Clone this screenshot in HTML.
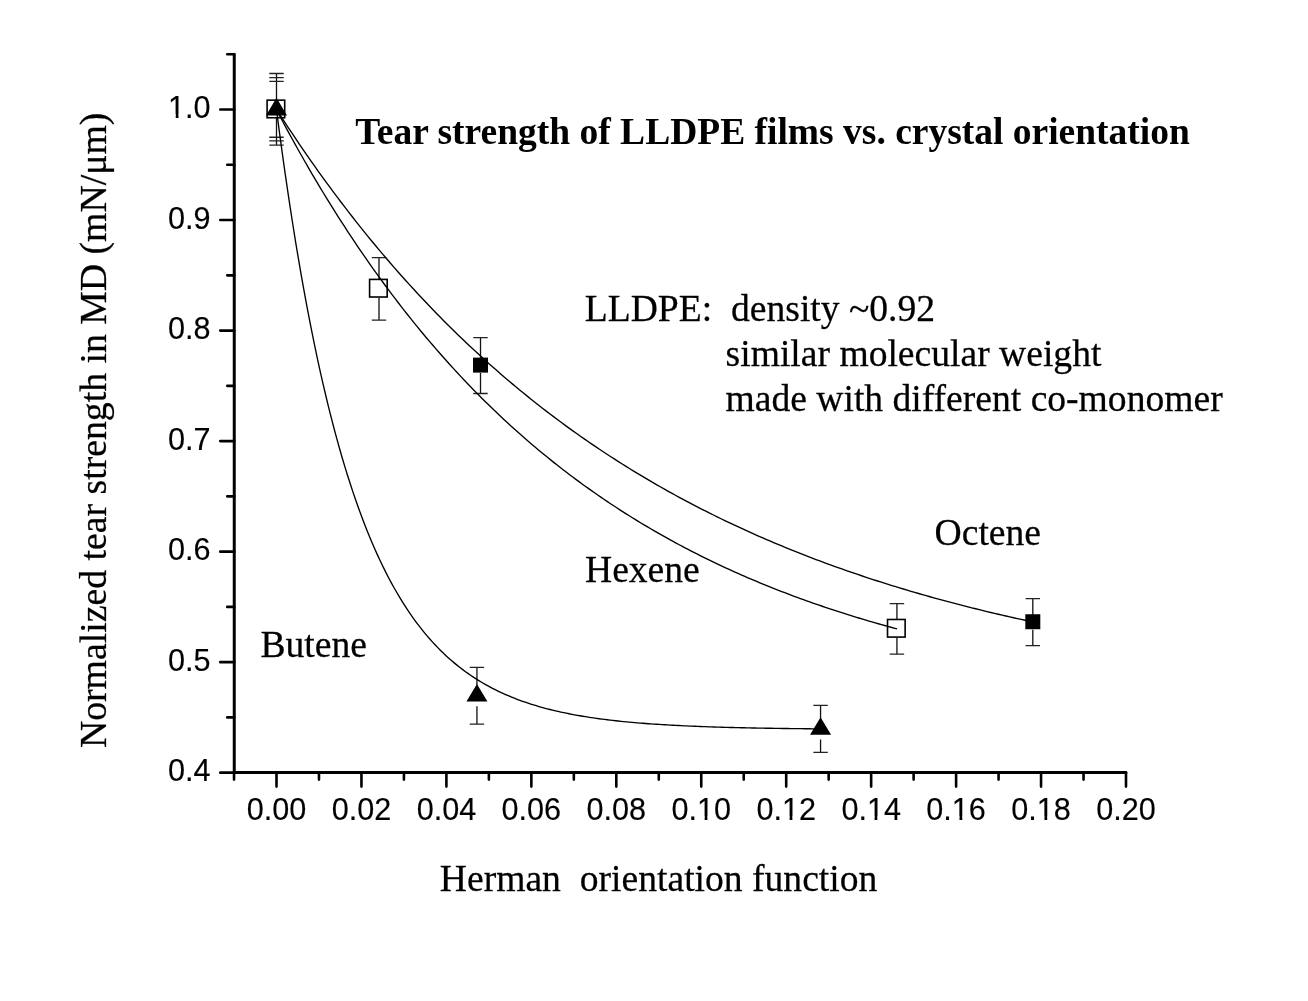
<!DOCTYPE html>
<html><head><meta charset="utf-8"><title>Tear strength of LLDPE films vs. crystal orientation</title><style>html,body{margin:0;padding:0;background:#fff;}svg{display:block;}</style></head><body>
<svg width="1308" height="1001" viewBox="0 0 1308 1001">
<rect width="1308" height="1001" fill="#fff"/>
<g stroke="#000" fill="none">
<path d="M234.25 54.29V772.6H1126.00" stroke-width="3" stroke-linejoin="miter" stroke-linecap="round"/>
<path d="M234.25 772.67H220.25M234.25 662.15H220.25M234.25 551.63H220.25M234.25 441.11H220.25M234.25 330.59H220.25M234.25 220.07H220.25M234.25 109.55H220.25M234.25 717.41H227.25M234.25 606.89H227.25M234.25 496.37H227.25M234.25 385.85H227.25M234.25 275.33H227.25M234.25 164.81H227.25M234.25 54.29H227.25M276.50 772.6V786.6M361.45 772.6V786.6M446.40 772.6V786.6M531.35 772.6V786.6M616.30 772.6V786.6M701.25 772.6V786.6M786.20 772.6V786.6M871.15 772.6V786.6M956.10 772.6V786.6M1041.05 772.6V786.6M1126.00 772.6V786.6M234.03 772.6V779.6M318.98 772.6V779.6M403.93 772.6V779.6M488.88 772.6V779.6M573.83 772.6V779.6M658.78 772.6V779.6M743.73 772.6V779.6M828.68 772.6V779.6M913.62 772.6V779.6M998.57 772.6V779.6M1083.53 772.6V779.6" stroke-width="2.6" stroke-linecap="round"/>
</g>
<g font-family="'Liberation Sans',Arial,sans-serif" font-size="30.6" fill="#000" stroke="#000" stroke-width="0.15">
<text transform="translate(210.60 781.27) scale(1.0 1.04)" text-anchor="end">0.4</text>
<text transform="translate(210.60 670.75) scale(1.0 1.04)" text-anchor="end">0.5</text>
<text transform="translate(210.60 560.23) scale(1.0 1.04)" text-anchor="end">0.6</text>
<text transform="translate(210.60 449.71) scale(1.0 1.04)" text-anchor="end">0.7</text>
<text transform="translate(210.60 339.19) scale(1.0 1.04)" text-anchor="end">0.8</text>
<text transform="translate(210.60 228.67) scale(1.0 1.04)" text-anchor="end">0.9</text>
<text transform="translate(210.60 118.15) scale(1.0 1.04)" text-anchor="end">1.0</text>
<text transform="translate(276.50 820.20) scale(1.0 1.04)" text-anchor="middle">0.00</text>
<text transform="translate(361.45 820.20) scale(1.0 1.04)" text-anchor="middle">0.02</text>
<text transform="translate(446.40 820.20) scale(1.0 1.04)" text-anchor="middle">0.04</text>
<text transform="translate(531.35 820.20) scale(1.0 1.04)" text-anchor="middle">0.06</text>
<text transform="translate(616.30 820.20) scale(1.0 1.04)" text-anchor="middle">0.08</text>
<text transform="translate(701.25 820.20) scale(1.0 1.04)" text-anchor="middle">0.10</text>
<text transform="translate(786.20 820.20) scale(1.0 1.04)" text-anchor="middle">0.12</text>
<text transform="translate(871.15 820.20) scale(1.0 1.04)" text-anchor="middle">0.14</text>
<text transform="translate(956.10 820.20) scale(1.0 1.04)" text-anchor="middle">0.16</text>
<text transform="translate(1041.05 820.20) scale(1.0 1.04)" text-anchor="middle">0.18</text>
<text transform="translate(1126.00 820.20) scale(1.0 1.04)" text-anchor="middle">0.20</text>
</g>
<g fill="#fff"><rect x="169.41" y="114.42" width="6.31" height="4.53"/><rect x="178.51" y="114.42" width="6.14" height="4.53"/><rect x="698.34" y="816.47" width="6.31" height="4.53"/><rect x="707.44" y="816.47" width="6.14" height="4.53"/><rect x="783.29" y="816.47" width="6.31" height="4.53"/><rect x="792.39" y="816.47" width="6.14" height="4.53"/><rect x="868.24" y="816.47" width="6.31" height="4.53"/><rect x="877.34" y="816.47" width="6.14" height="4.53"/><rect x="953.19" y="816.47" width="6.31" height="4.53"/><rect x="962.29" y="816.47" width="6.14" height="4.53"/><rect x="1038.14" y="816.47" width="6.31" height="4.53"/><rect x="1047.24" y="816.47" width="6.14" height="4.53"/></g>
<path d="M276.50 73.52V102.05M276.50 117.05V145.08M276.50 77.72V102.05M276.50 117.05V140.88M276.50 81.37V102.05M276.50 117.05V137.23M480.51 337.55V358.01M480.51 373.01V393.48M1032.81 598.71V614.64M1032.81 629.64V645.57M378.99 257.54V279.61M378.99 298.01V320.09M896.93 603.57V619.68M896.93 638.08V654.19M476.94 667.34V685.25M476.94 706.25V724.15M820.56 705.36V718.40M820.56 739.40V752.44" stroke="#111" stroke-width="1.3" fill="none"/>
<path d="M269.30 73.52H283.70M269.30 145.08H283.70M269.30 77.72H283.70M269.30 140.88H283.70M269.30 81.37H283.70M269.30 137.23H283.70M473.31 337.55H487.71M473.31 393.48H487.71M1025.61 598.71H1040.01M1025.61 645.57H1040.01M371.79 257.54H386.19M371.79 320.09H386.19M889.73 603.57H904.13M889.73 654.19H904.13M469.74 667.34H484.14M469.74 724.15H484.14M813.36 705.36H827.76M813.36 752.44H827.76" stroke="#222" stroke-width="1.3" fill="none"/>
<rect x="269.00" y="101.65" width="15" height="15" fill="#000"/>
<rect x="473.01" y="357.61" width="15" height="15" fill="#000"/>
<rect x="1025.31" y="614.24" width="15" height="15" fill="#000"/>
<rect x="267.10" y="100.15" width="17.6" height="17.6" fill="#fff" stroke="#000" stroke-width="1.6"/>
<rect x="369.59" y="279.41" width="17.6" height="17.6" fill="#fff" stroke="#000" stroke-width="1.6"/>
<rect x="887.53" y="619.48" width="17.6" height="17.6" fill="#fff" stroke="#000" stroke-width="1.6"/>
<path d="M276.50 109.69 L279.23 130.60 L281.97 150.79 L284.70 170.31 L287.44 189.17 L290.17 207.40 L292.91 225.01 L295.64 242.02 L298.37 258.46 L301.11 274.35 L303.84 289.70 L306.58 304.53 L309.31 318.87 L312.04 332.72 L314.78 346.10 L317.51 359.03 L320.25 371.53 L322.98 383.60 L325.72 395.27 L328.45 406.54 L331.18 417.43 L333.92 427.96 L336.65 438.13 L339.39 447.96 L342.12 457.45 L344.85 466.63 L347.59 475.50 L350.32 484.06 L353.06 492.34 L355.79 500.34 L358.53 508.07 L361.26 515.54 L363.99 522.76 L366.73 529.73 L369.46 536.47 L372.20 542.98 L374.93 549.27 L377.67 555.35 L380.40 561.23 L383.13 566.90 L385.87 572.39 L388.60 577.69 L391.34 582.81 L394.07 587.76 L396.80 592.54 L399.54 597.16 L402.27 601.62 L405.01 605.94 L407.74 610.11 L410.48 614.13 L413.21 618.03 L415.94 621.79 L418.68 625.42 L421.41 628.93 L424.15 632.33 L426.88 635.60 L429.61 638.77 L432.35 641.83 L435.08 644.79 L437.82 647.65 L440.55 650.41 L443.29 653.08 L446.02 655.66 L448.75 658.15 L451.49 660.56 L454.22 662.88 L456.96 665.13 L459.69 667.30 L462.43 669.40 L465.16 671.43 L467.89 673.39 L470.63 675.28 L473.36 677.11 L476.10 678.88 L478.83 680.59 L481.56 682.24 L484.30 683.84 L487.03 685.38 L489.77 686.87 L492.50 688.31 L495.24 689.70 L497.97 691.04 L500.70 692.34 L503.44 693.59 L506.17 694.81 L508.91 695.98 L511.64 697.11 L514.37 698.20 L517.11 699.26 L519.84 700.28 L522.58 701.27 L525.31 702.22 L528.05 703.14 L530.78 704.03 L533.51 704.89 L536.25 705.72 L538.98 706.53 L541.72 707.30 L544.45 708.05 L547.19 708.78 L549.92 709.48 L552.65 710.15 L555.39 710.81 L558.12 711.44 L560.86 712.05 L563.59 712.64 L566.32 713.21 L569.06 713.76 L571.79 714.29 L574.53 714.81 L577.26 715.30 L580.00 715.78 L582.73 716.25 L585.46 716.70 L588.20 717.13 L590.93 717.55 L593.67 717.95 L596.40 718.34 L599.13 718.72 L601.87 719.09 L604.60 719.44 L607.34 719.78 L610.07 720.11 L612.81 720.43 L615.54 720.73 L618.27 721.03 L621.01 721.32 L623.74 721.60 L626.48 721.86 L629.21 722.12 L631.95 722.37 L634.68 722.61 L637.41 722.85 L640.15 723.07 L642.88 723.29 L645.62 723.50 L648.35 723.71 L651.08 723.90 L653.82 724.09 L656.55 724.28 L659.29 724.45 L662.02 724.63 L664.76 724.79 L667.49 724.95 L670.22 725.11 L672.96 725.26 L675.69 725.40 L678.43 725.54 L681.16 725.67 L683.90 725.80 L686.63 725.93 L689.36 726.05 L692.10 726.17 L694.83 726.28 L697.57 726.39 L700.30 726.50 L703.03 726.60 L705.77 726.70 L708.50 726.80 L711.24 726.89 L713.97 726.98 L716.71 727.07 L719.44 727.15 L722.17 727.23 L724.91 727.31 L727.64 727.38 L730.38 727.46 L733.11 727.53 L735.84 727.59 L738.58 727.66 L741.31 727.72 L744.05 727.78 L746.78 727.84 L749.52 727.90 L752.25 727.96 L754.98 728.01 L757.72 728.06 L760.45 728.11 L763.19 728.16 L765.92 728.21 L768.66 728.25 L771.39 728.29 L774.12 728.34 L776.86 728.38 L779.59 728.42 L782.33 728.45 L785.06 728.49 L787.79 728.53 L790.53 728.56 L793.26 728.59 L796.00 728.62 L798.73 728.66 L801.47 728.69 L804.20 728.71 L806.93 728.74 L809.67 728.77 L812.40 728.80 L815.14 728.82 L817.87 728.84 L820.60 728.87" stroke="#000" stroke-width="1.35" fill="none"/>
<path d="M276.50 109.71 L279.62 115.63 L282.74 121.50 L285.86 127.31 L288.97 133.07 L292.09 138.76 L295.21 144.40 L298.33 149.99 L301.45 155.52 L304.57 161.00 L307.68 166.42 L310.80 171.79 L313.92 177.10 L317.04 182.37 L320.16 187.58 L323.28 192.74 L326.39 197.86 L329.51 202.92 L332.63 207.93 L335.75 212.89 L338.87 217.81 L341.99 222.67 L345.10 227.49 L348.22 232.26 L351.34 236.98 L354.46 241.66 L357.58 246.29 L360.70 250.88 L363.81 255.42 L366.93 259.92 L370.05 264.37 L373.17 268.78 L376.29 273.14 L379.41 277.47 L382.53 281.75 L385.64 285.99 L388.76 290.18 L391.88 294.34 L395.00 298.45 L398.12 302.53 L401.24 306.56 L404.35 310.56 L407.47 314.51 L410.59 318.43 L413.71 322.31 L416.83 326.15 L419.95 329.95 L423.06 333.72 L426.18 337.45 L429.30 341.14 L432.42 344.80 L435.54 348.42 L438.66 352.00 L441.77 355.55 L444.89 359.07 L448.01 362.55 L451.13 365.99 L454.25 369.40 L457.37 372.78 L460.49 376.13 L463.60 379.44 L466.72 382.72 L469.84 385.97 L472.96 389.19 L476.08 392.37 L479.20 395.53 L482.31 398.65 L485.43 401.74 L488.55 404.80 L491.67 407.83 L494.79 410.84 L497.91 413.81 L501.02 416.75 L504.14 419.67 L507.26 422.55 L510.38 425.41 L513.50 428.24 L516.62 431.04 L519.73 433.82 L522.85 436.56 L525.97 439.28 L529.09 441.98 L532.21 444.64 L535.33 447.28 L538.44 449.90 L541.56 452.49 L544.68 455.05 L547.80 457.59 L550.92 460.11 L554.04 462.60 L557.16 465.06 L560.27 467.50 L563.39 469.92 L566.51 472.31 L569.63 474.68 L572.75 477.03 L575.87 479.35 L578.98 481.65 L582.10 483.93 L585.22 486.18 L588.34 488.42 L591.46 490.63 L594.58 492.82 L597.69 494.99 L600.81 497.14 L603.93 499.26 L607.05 501.37 L610.17 503.45 L613.29 505.52 L616.40 507.56 L619.52 509.58 L622.64 511.59 L625.76 513.57 L628.88 515.54 L632.00 517.48 L635.11 519.41 L638.23 521.32 L641.35 523.21 L644.47 525.08 L647.59 526.93 L650.71 528.76 L653.83 530.58 L656.94 532.38 L660.06 534.16 L663.18 535.92 L666.30 537.67 L669.42 539.40 L672.54 541.11 L675.65 542.80 L678.77 544.48 L681.89 546.14 L685.01 547.79 L688.13 549.42 L691.25 551.03 L694.36 552.63 L697.48 554.21 L700.60 555.78 L703.72 557.33 L706.84 558.86 L709.96 560.38 L713.07 561.89 L716.19 563.38 L719.31 564.86 L722.43 566.32 L725.55 567.77 L728.67 569.20 L731.79 570.62 L734.90 572.03 L738.02 573.42 L741.14 574.80 L744.26 576.16 L747.38 577.51 L750.50 578.85 L753.61 580.17 L756.73 581.49 L759.85 582.78 L762.97 584.07 L766.09 585.34 L769.21 586.61 L772.32 587.85 L775.44 589.09 L778.56 590.32 L781.68 591.53 L784.80 592.73 L787.92 593.92 L791.03 595.09 L794.15 596.26 L797.27 597.41 L800.39 598.56 L803.51 599.69 L806.63 600.81 L809.74 601.92 L812.86 603.02 L815.98 604.10 L819.10 605.18 L822.22 606.25 L825.34 607.30 L828.46 608.35 L831.57 609.38 L834.69 610.41 L837.81 611.43 L840.93 612.43 L844.05 613.43 L847.17 614.41 L850.28 615.39 L853.40 616.35 L856.52 617.31 L859.64 618.26 L862.76 619.20 L865.88 620.13 L868.99 621.05 L872.11 621.96 L875.23 622.86 L878.35 623.75 L881.47 624.64 L884.59 625.51 L887.70 626.38 L890.82 627.24 L893.94 628.09 L897.06 628.93" stroke="#000" stroke-width="1.35" fill="none"/>
<path d="M276.50 109.48 L280.30 115.38 L284.10 121.22 L287.90 127.01 L291.70 132.74 L295.50 138.41 L299.30 144.02 L303.09 149.58 L306.89 155.08 L310.69 160.53 L314.49 165.93 L318.29 171.27 L322.09 176.55 L325.89 181.79 L329.69 186.97 L333.49 192.10 L337.29 197.19 L341.09 202.22 L344.89 207.20 L348.69 212.13 L352.49 217.01 L356.28 221.84 L360.08 226.63 L363.88 231.36 L367.68 236.05 L371.48 240.70 L375.28 245.29 L379.08 249.85 L382.88 254.35 L386.68 258.81 L390.48 263.23 L394.28 267.61 L398.08 271.94 L401.88 276.22 L405.68 280.47 L409.47 284.67 L413.27 288.83 L417.07 292.95 L420.87 297.03 L424.67 301.07 L428.47 305.06 L432.27 309.02 L436.07 312.94 L439.87 316.82 L443.67 320.66 L447.47 324.46 L451.27 328.23 L455.07 331.96 L458.87 335.65 L462.66 339.30 L466.46 342.92 L470.26 346.50 L474.06 350.04 L477.86 353.56 L481.66 357.03 L485.46 360.47 L489.26 363.88 L493.06 367.25 L496.86 370.59 L500.66 373.90 L504.46 377.17 L508.26 380.41 L512.05 383.62 L515.85 386.80 L519.65 389.95 L523.45 393.06 L527.25 396.14 L531.05 399.20 L534.85 402.22 L538.65 405.21 L542.45 408.17 L546.25 411.10 L550.05 414.01 L553.85 416.88 L557.65 419.73 L561.45 422.55 L565.24 425.34 L569.04 428.10 L572.84 430.84 L576.64 433.54 L580.44 436.22 L584.24 438.88 L588.04 441.51 L591.84 444.11 L595.64 446.68 L599.44 449.23 L603.24 451.76 L607.04 454.26 L610.84 456.73 L614.64 459.18 L618.43 461.61 L622.23 464.01 L626.03 466.39 L629.83 468.74 L633.63 471.08 L637.43 473.38 L641.23 475.67 L645.03 477.93 L648.83 480.17 L652.63 482.39 L656.43 484.58 L660.23 486.76 L664.03 488.91 L667.82 491.04 L671.62 493.15 L675.42 495.24 L679.22 497.30 L683.02 499.35 L686.82 501.38 L690.62 503.38 L694.42 505.37 L698.22 507.34 L702.02 509.29 L705.82 511.21 L709.62 513.12 L713.42 515.01 L717.22 516.88 L721.01 518.74 L724.81 520.57 L728.61 522.39 L732.41 524.18 L736.21 525.96 L740.01 527.73 L743.81 529.47 L747.61 531.20 L751.41 532.91 L755.21 534.60 L759.01 536.28 L762.81 537.94 L766.61 539.58 L770.41 541.21 L774.20 542.82 L778.00 544.41 L781.80 545.99 L785.60 547.56 L789.40 549.10 L793.20 550.64 L797.00 552.15 L800.80 553.65 L804.60 555.14 L808.40 556.61 L812.20 558.07 L816.00 559.51 L819.80 560.94 L823.60 562.36 L827.39 563.76 L831.19 565.15 L834.99 566.52 L838.79 567.88 L842.59 569.22 L846.39 570.56 L850.19 571.87 L853.99 573.18 L857.79 574.47 L861.59 575.75 L865.39 577.02 L869.19 578.28 L872.99 579.52 L876.78 580.75 L880.58 581.97 L884.38 583.17 L888.18 584.37 L891.98 585.55 L895.78 586.72 L899.58 587.88 L903.38 589.02 L907.18 590.16 L910.98 591.28 L914.78 592.40 L918.58 593.50 L922.38 594.59 L926.18 595.67 L929.97 596.74 L933.77 597.80 L937.57 598.84 L941.37 599.88 L945.17 600.91 L948.97 601.93 L952.77 602.94 L956.57 603.93 L960.37 604.92 L964.17 605.90 L967.97 606.86 L971.77 607.82 L975.57 608.77 L979.37 609.71 L983.16 610.64 L986.96 611.56 L990.76 612.47 L994.56 613.38 L998.36 614.27 L1002.16 615.15 L1005.96 616.03 L1009.76 616.90 L1013.56 617.75 L1017.36 618.60 L1021.16 619.45 L1024.96 620.28 L1028.76 621.10 L1032.55 621.92" stroke="#000" stroke-width="1.35" fill="none"/>
<path d="M276.50 97.82L287.00 115.42L266.00 115.42Z" fill="#000"/>
<path d="M476.94 684.01L487.44 701.61L466.44 701.61Z" fill="#000"/>
<path d="M820.56 717.17L831.06 734.77L810.06 734.77Z" fill="#000"/>
<g font-family="'Liberation Serif','Times New Roman',serif" font-weight="bold" font-size="37.5"><text x="355.2" y="143.7">Tear strength of LLDPE films vs. crystal orientation</text></g>
<g font-family="'Liberation Serif','Times New Roman',serif" font-size="37.6" fill="#000" stroke="#000" stroke-width="0.25">
<text transform="translate(584.8 321) scale(1 1.03)">LLDPE:</text>
<text transform="translate(731 321) scale(1 1.03)">density ~0.92</text>
<text transform="translate(725.6 366) scale(1 1.03)">similar molecular weight</text>
<text transform="translate(725.5 410.5) scale(1 1.03)">made with different co-monomer</text>
<text transform="translate(934.6 545.3) scale(1 1.03)">Octene</text>
<text transform="translate(585 582) scale(1 1.03)">Hexene</text>
<text transform="translate(260.4 656.8) scale(1 1.03)">Butene</text>
<text transform="translate(439.8 890.8) scale(1 1.03)">Herman</text>
<text transform="translate(579.8 890.8) scale(1 1.03)">orientation function</text>
</g>
<text transform="translate(106.1 748.1) rotate(-90) scale(1 1.03)" x="0" y="0" font-family="'Liberation Serif','Times New Roman',serif" font-size="37.75" stroke="#000" stroke-width="0.25">Normalized tear strength in MD (mN/μm)</text>
</svg>
</body></html>
